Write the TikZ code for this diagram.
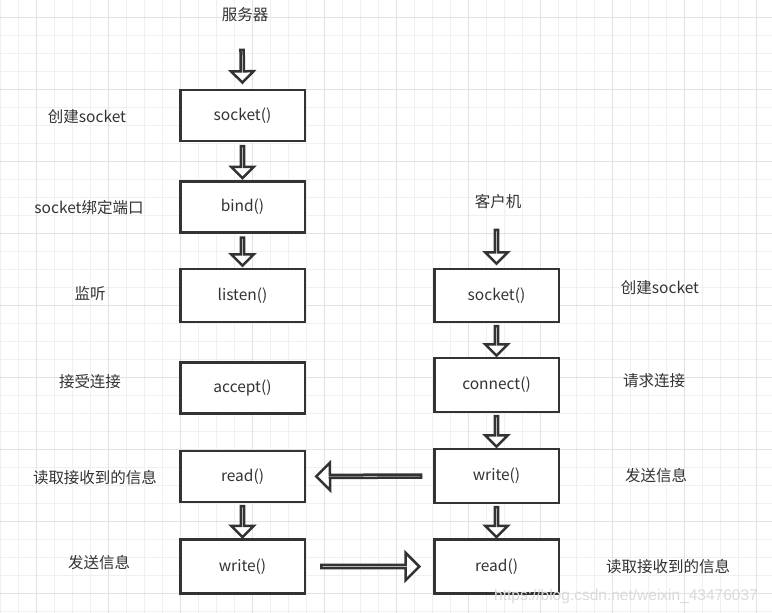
\documentclass[tikz,border=0pt]{standalone}
\usepackage{fontspec}
\setmainfont{Noto Sans CJK SC}
\newfontfamily\markfont{Liberation Sans}
\usepackage{xcolor}
\usetikzlibrary{calc,shapes.arrows}

\definecolor{ink}{HTML}{333333}
\definecolor{gridminor}{HTML}{F0F0F0}
\definecolor{gridmajor}{HTML}{E2E2E2}
\definecolor{markgray}{HTML}{DADADA}

\tikzset{
  box/.style={draw=ink, fill=white, line width=2.5pt, minimum width=124.5pt, minimum height=51pt, inner sep=0pt,
    font=\fontsize{15.5}{18}\selectfont, text=ink},
  tag/.style={font=\fontsize{15.5}{18}\selectfont, text=ink, inner sep=0pt},
  flow/.style={single arrow, draw=ink, fill=white, line width=2.5pt, inner sep=0pt, minimum width=22.5pt,
    single arrow head extend=7.5pt, single arrow tip angle=90, sloped, allow upside down},
  wideflow/.style={minimum width=27.5pt, single arrow head extend=10pt},
}

% hollow arrow from #2 to #3, kept #4 away from both ends
\newcommand\flowarrow[4][]{%
  \path let \p1=($(#3)-(#2)$), \n1={veclen(\x1,\y1)-2*#4} in (#2) -- (#3) node[flow, #1, midway, minimum height=\n1] {};}

\begin{document}
\begin{tikzpicture}[x=1pt, y=-1pt]
  \useasboundingbox (0,0) rectangle (772,613);
  \fill[white] (0,0) rectangle (772,613);
  % grid
  \foreach \x in {0,18,...,774} \draw[gridminor, line width=1pt] (\x,0) -- (\x,613);
  \foreach \y in {-1,17,...,611} \draw[gridminor, line width=1pt] (0,\y) -- (772,\y);
  \foreach \x in {36,108,...,756} \draw[gridmajor, line width=1pt] (\x,0) -- (\x,613);
  \foreach \y in {17,89,...,593} \draw[gridmajor, line width=1pt] (0,\y) -- (772,\y);

  % server side
  \node[tag] (server) at (245,15) {服务器};
  \coordinate (sin) at (242,42);
  \node[box] (ssocket) at (242.5,115.5) {socket()};
  \node[box] (sbind) at (242.5,207) {bind()};
  \node[box, minimum height=53pt] (slisten) at (242.5,295.5) {listen()};
  \node[box] (saccept) at (242.5,388) {accept()};
  \node[box] (sread) at (242.5,476.5) {read()};
  \node[box, minimum height=54pt] (swrite) at (242.5,566.5) {write()};

  \node[tag] (t1) at (87,117) {创建socket};
  \node[tag] (t2) at (89,208) {socket绑定端口};
  \node[tag] (t3) at (90,294) {监听};
  \node[tag] (t4) at (90,382) {接受连接};
  \node[tag] (t5) at (95,478) {读取接收到的信息};
  \node[tag] (t6) at (99,563) {发送信息};

  % client side
  \node[tag] (client) at (498,202) {客户机};
  \coordinate (cin) at (496.5,224);
  \node[box, minimum height=53pt] (csocket) at (496.5,295.5) {socket()};
  \node[box, minimum height=54pt] (cconnect) at (496.5,385) {connect()};
  \node[box, minimum height=54pt] (cwrite) at (496.5,476) {write()};
  \node[box, minimum height=54pt] (cread) at (496.5,566.5) {read()};

  \node[tag] (u1) at (660,288) {创建socket};
  \node[tag] (u2) at (654,381) {请求连接};
  \node[tag] (u3) at (656,476) {发送信息};
  \node[tag] (u4) at (668,567) {读取接收到的信息};

  % arrows
  \flowarrow{sin}{ssocket.north}{7pt}
  \flowarrow{ssocket.south}{sbind.north}{3pt}
  \flowarrow{sbind.south}{slisten.north}{3pt}
  \flowarrow{sread.south}{swrite.north}{2pt}
  \flowarrow{cin}{csocket.north}{5pt}
  \flowarrow{csocket.south}{cconnect.north}{2pt}
  \flowarrow{cconnect.south}{cwrite.north}{2pt}
  \flowarrow{cwrite.south}{cread.north}{2pt}
  \flowarrow[wideflow]{cwrite.west}{sread.east}{11pt}
  \flowarrow[wideflow]{swrite.east}{cread.west}{14.5pt}

  \node[font=\markfont\fontsize{15.5}{18}\selectfont, text=markgray, inner sep=0pt] (mark) at (626,596) {https://blog.csdn.net/weixin\_43476037};
\end{tikzpicture}
\end{document}
